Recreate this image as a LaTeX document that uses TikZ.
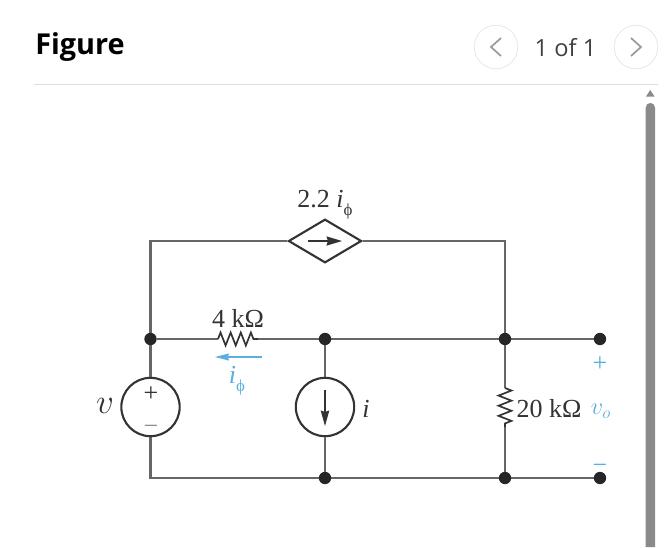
\documentclass[tikz,border=0pt]{standalone}
\usepackage{fontspec}
\setmainfont{Open Sans}
\newfontfamily\bookfont{Liberation Serif}
\usetikzlibrary{arrows.meta,shapes.geometric,decorations.pathmorphing,backgrounds}
\definecolor{wiregray}{HTML}{666666}
\definecolor{inkgray}{HTML}{333333}
\definecolor{cueblue}{HTML}{5AAEE0}
\definecolor{rulegray}{HTML}{DEDEDE}
\definecolor{scrollgray}{HTML}{8A8A8A}
\newcommand{\ctrlcur}{{\itshape i}\raisebox{-0.3em}{\fontsize{12}{12}\selectfont ϕ}}
\tikzset{wire/.style = {wiregray, line width=1.5pt},
         junction/.style = {circle, fill=black!85, minimum size=8.8pt, inner sep=0pt},
         source/.style = {circle, draw=inkgray, line width=1.5pt, fill=white, minimum size=41.5pt, inner sep=0pt},
         ctrlsource/.style = {diamond, draw=inkgray, line width=1.5pt, fill=white, minimum width=52pt, minimum height=31pt, inner sep=0pt},
         resistor/.style = {inkgray, line width=1.2pt, decorate, decoration={zigzag, segment length=7.2pt, amplitude=4.6pt}},
         tag/.style = {inkgray, inner sep=0pt, font=\bookfont\fontsize{18.5}{18.5}\selectfont},
         cue/.style = {cueblue, inner sep=0pt, font=\bookfont\fontsize{18.5}{18.5}\selectfont},
         navbtn/.style = {circle, draw=rulegray!70, line width=0.6pt, minimum size=31pt, inner sep=0pt},
         chevron/.style = {black!40, line width=1.2pt}}

\begin{document}
\begin{tikzpicture}[x=0.025cm, y=-0.025cm]
    \useasboundingbox (0,0) rectangle (669,547);
    % page header
    \node [anchor=west, inner sep=0pt, font=\bfseries\fontsize{20.5}{21}\selectfont] (title) at (35,47) {Figure};
    \node [navbtn] (prevbtn) at (496,47) {};
    \node [navbtn] (nextbtn) at (636,47) {};
    \node [inner sep=0pt, black!75, font=\fontsize{16.8}{17}\selectfont] (pager) at (565.5,48) {1 of 1};
    \draw [chevron] (501,38) -- (491,47) -- (501,56);
    \draw [chevron] (631,38) -- (641,47) -- (631,56);
    \coordinate (ruleL) at (34,84);
    \coordinate (ruleR) at (658,84);
    \draw [rulegray, line width=0.7pt] (ruleL) -- (ruleR);
    % scroll bar
    \fill [scrollgray] (645.7,547) -- (645.7,107.6) arc (180:360:4.65) -- (655,547) -- cycle;
    \fill [scrollgray] (646,96.5) -- (650.2,90) -- (654.5,96.5) -- cycle;
    % junctions
    \node [junction] (leftmid) at (150.5,339) {};
    \node [junction] (midtop) at (325,339) {};
    \node [junction] (rightmid) at (505,339) {};
    \node [junction] (outtop) at (600,339) {};
    \node [junction] (midbot) at (325,478) {};
    \node [junction] (rightbot) at (505,478) {};
    \node [junction] (outbot) at (600,478) {};
    \coordinate (lefttop) at (150.5,241);
    \coordinate (righttop) at (505,241);
    \coordinate (leftbot) at (150.5,478);
    % elements
    \node [source] (vsrc) at (150.5,407) {};
    \node [source] (isrc) at (325,407) {};
    \node [ctrlsource] (depsrc) at (325,241) {};
    \coordinate (ra) at (218,339);
    \coordinate (rb) at (258,339);
    \coordinate (rc) at (505,388);
    \coordinate (rd) at (505,427);
    % wires
    \begin{pgfonlayer}{background}
    \draw [wire, line join=miter] (vsrc) -- (lefttop) -- (depsrc) -- (righttop) -- (rc);
    \draw [wire] (leftmid) -- (ra);
    \draw [wire] (rb) -- (midtop) -- (rightmid) -- (outtop);
    \draw [wire] (midtop) -- (isrc) -- (midbot);
    \draw [wire] (vsrc) -- (leftbot) -- (midbot) -- (rightbot) -- (outbot);
    \draw [wire] (rd) -- (rightbot);
    \end{pgfonlayer}
    \draw [resistor] (ra) -- (rb);
    \draw [resistor] (rc) -- (rd);
    % source marks
    \node [tag] (vplus) at (151,394) {+};
    \node [tag, inkgray!55] (vminus) at (151,430) {−};
    \coordinate (iarrowa) at (325,390);
    \coordinate (iarrowb) at (325,426);
    \draw [inkgray, line width=0.8pt, -{Stealth[length=11pt, width=6pt, inset=1pt]}] (iarrowa) -- (iarrowb);
    \coordinate (darrowa) at (308,241);
    \coordinate (darrowb) at (342,241);
    \draw [inkgray, line width=0.8pt, -{Stealth[length=11pt, width=6.5pt, inset=1pt]}] (darrowa) -- (darrowb);
    % current cue
    \coordinate (cuea) at (262,357);
    \coordinate (cueb) at (215,357);
    \draw [cueblue, line width=0.8pt, -{Stealth[length=10pt, width=5pt, inset=1pt]}] (cuea) -- (cueb);
    % labels
    \node [tag] (depval) at (325,205) {2.2 \ctrlcur};
    \node [tag] (rone) at (238,318) {4 kΩ};
    \node [tag] (rtwo) at (549,409) {20 kΩ};
    \node [tag] (ilabel) at (366,409) {\itshape i};
    \node [tag, font=\fontsize{24}{24}\selectfont] (vlabel) at (105,406) {$v$};
    \node [cue] (iphi) at (237,381) {\ctrlcur};
    \node [cue, font=\fontsize{17}{17}\selectfont] (vout) at (601,411) {$v_o$};
    \node [cue] (outplus) at (600,364) {+};
    \node [cue] (outminus) at (600,469) {−};
\end{tikzpicture}
\end{document}
